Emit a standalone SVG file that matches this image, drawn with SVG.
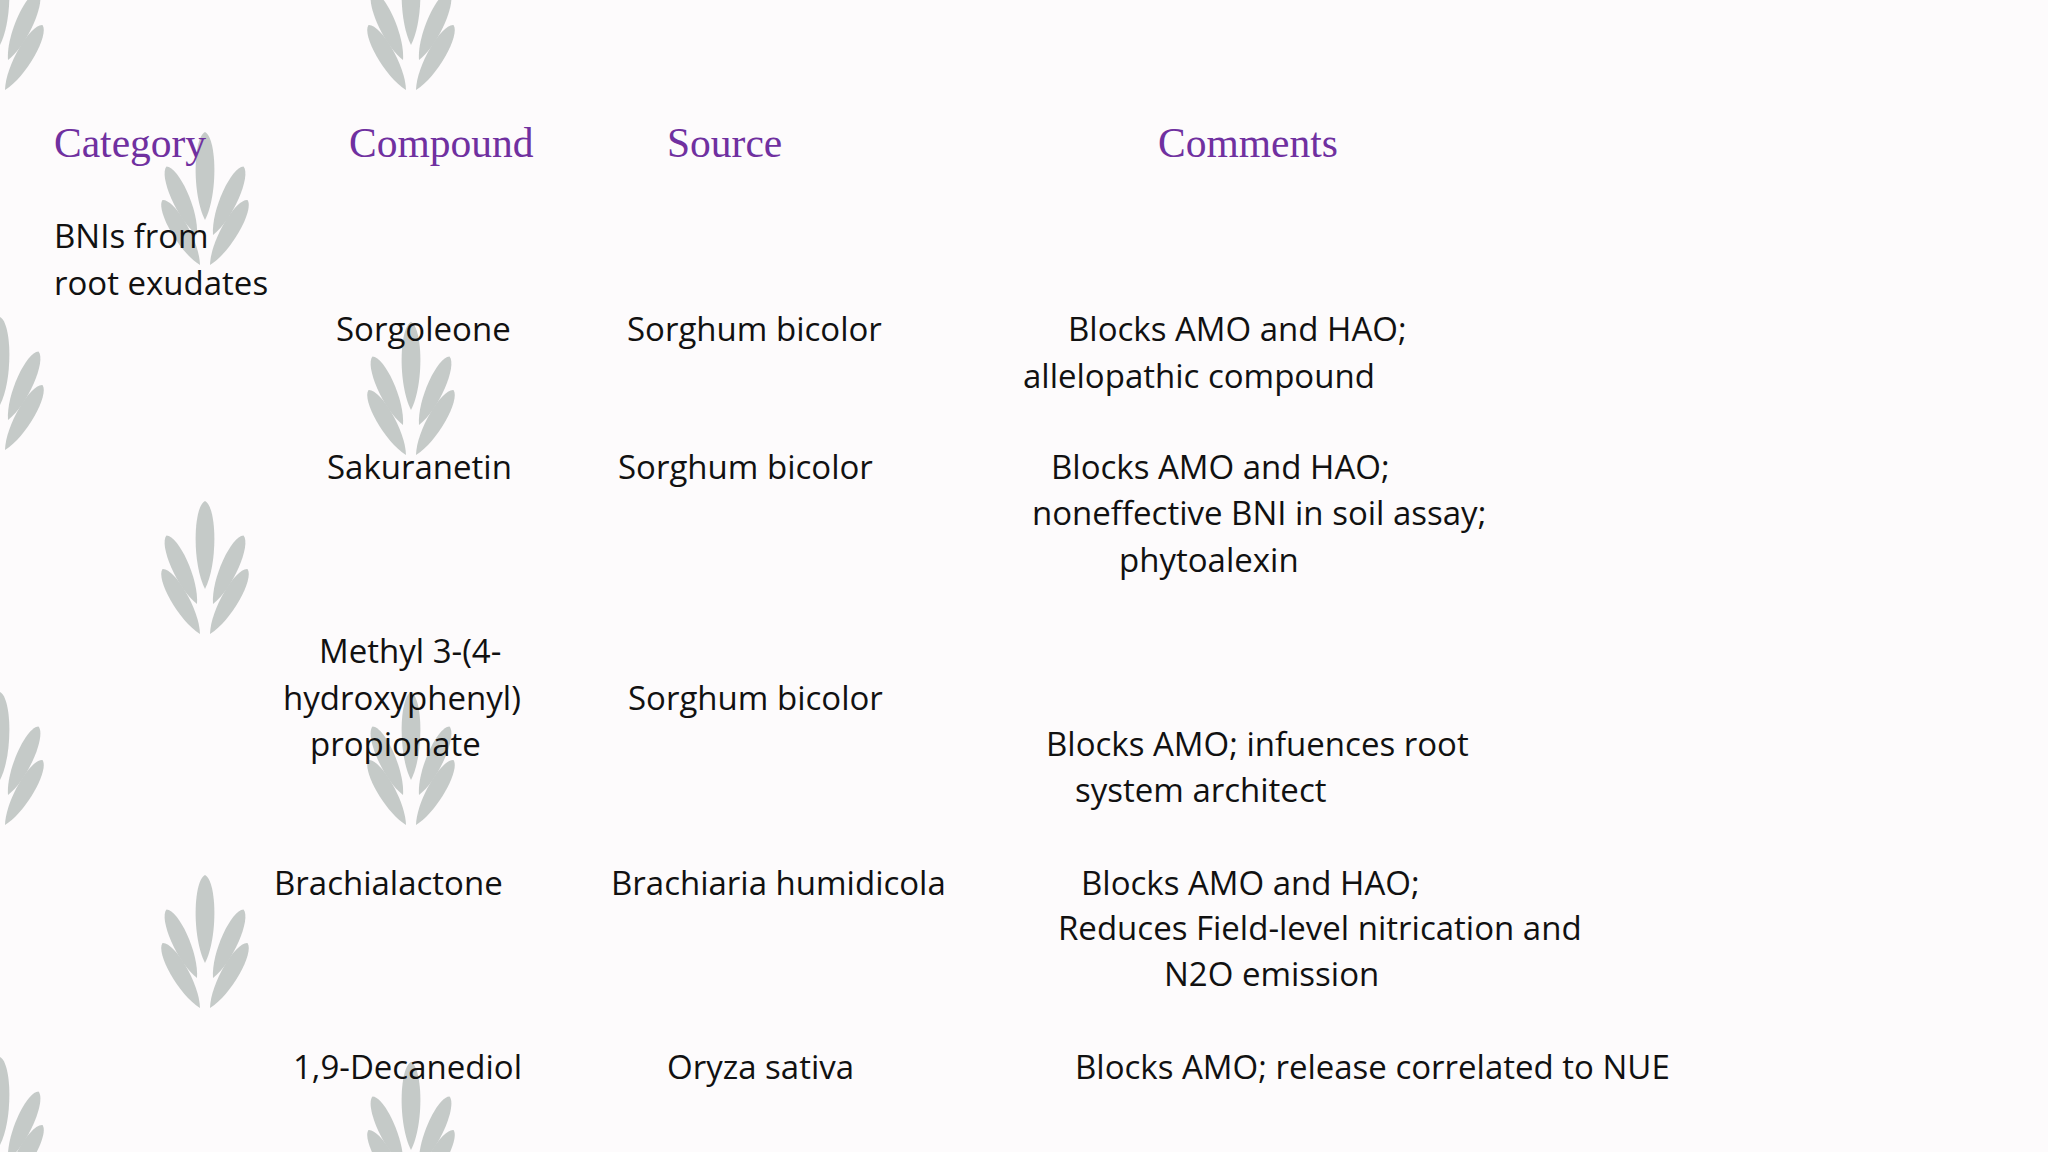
<svg xmlns="http://www.w3.org/2000/svg" width="2048" height="1152" viewBox="0 0 2048 1152">
<defs>
<style>
.h{font-family:"Liberation Serif",serif;font-size:41.5px;fill:#7030A0}
.t{font-family:"Open Sans","Noto Sans",sans-serif;font-size:33px;fill:#111}
.leaf{fill:#c5cac8}
</style>
<path id="petal" d="M0,0 C-13,-25 -12,-82 0,-88 C12,-82 13,-25 0,0 Z"/>
<path id="petalS" d="M0,0 C-12,-22 -11,-70 0,-75 C11,-70 12,-22 0,0 Z"/>
<g id="leafdef" class="leaf">
<use href="#petal" transform="translate(0,25)"/>
<use href="#petalS" transform="translate(-8,40) rotate(-24)"/>
<use href="#petalS" transform="translate(8,40) rotate(24)"/>
<use href="#petalS" transform="translate(-5,70) rotate(-30)"/>
<use href="#petalS" transform="translate(5,70) rotate(30)"/>
</g>
</defs>
<rect width="2048" height="1152" fill="#fdfbfc"/>
<g id="leaves">
<use href="#leafdef" x="411" y="20"/>
<use href="#leafdef" x="205" y="195"/>
<use href="#leafdef" x="411" y="385"/>
<use href="#leafdef" x="205" y="564"/>
<use href="#leafdef" x="411" y="755"/>
<use href="#leafdef" x="205" y="938"/>
<use href="#leafdef" x="411" y="1125"/>
<use href="#leafdef" x="0" y="20"/>
<use href="#leafdef" x="0" y="380"/>
<use href="#leafdef" x="0" y="755"/>
<use href="#leafdef" x="0" y="1120"/>
</g>
<g id="headers">
<text class="h" x="54" y="157">Category</text>
<text class="h" x="349" y="157">Compound</text>
<text class="h" x="667" y="157">Source</text>
<text class="h" x="1158" y="157">Comments</text>
</g>
<g id="rows">
<text class="t" x="54" y="248">BNIs from</text>
<text class="t" x="54" y="295">root exudates</text>
<text class="t" x="336" y="341">Sorgoleone</text>
<text class="t" x="627" y="341">Sorghum bicolor</text>
<text class="t" x="1068" y="341">Blocks AMO and HAO;</text>
<text class="t" x="1023" y="388">allelopathic compound</text>
<text class="t" x="327" y="479">Sakuranetin</text>
<text class="t" x="618" y="479">Sorghum bicolor</text>
<text class="t" x="1051" y="479">Blocks AMO and HAO;</text>
<text class="t" x="1032" y="525">noneffective BNI in soil assay;</text>
<text class="t" x="1119" y="572">phytoalexin</text>
<text class="t" x="319" y="663">Methyl 3-(4-</text>
<text class="t" x="283" y="710">hydroxyphenyl)</text>
<text class="t" x="310" y="756">propionate</text>
<text class="t" x="628" y="710">Sorghum bicolor</text>
<text class="t" x="1046" y="756">Blocks AMO; infuences root</text>
<text class="t" x="1075" y="802">system architect</text>
<text class="t" x="274" y="895">Brachialactone</text>
<text class="t" x="611" y="895">Brachiaria humidicola</text>
<text class="t" x="1081" y="895">Blocks AMO and HAO;</text>
<text class="t" x="1058" y="940">Reduces Field-level nitrication and</text>
<text class="t" x="1164" y="986">N2O emission</text>
<text class="t" x="293" y="1079">1,9-Decanediol</text>
<text class="t" x="667" y="1079">Oryza sativa</text>
<text class="t" x="1075" y="1079">Blocks AMO; release correlated to NUE</text>
</g>
</svg>
